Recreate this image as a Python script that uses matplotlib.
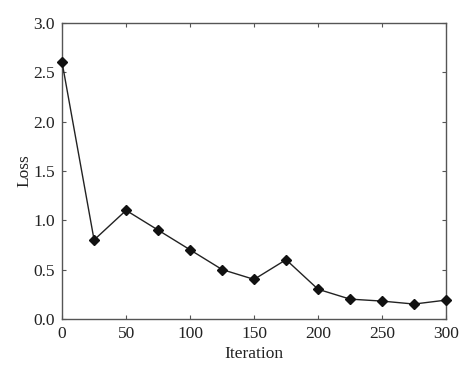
import matplotlib
matplotlib.use("Agg")
import matplotlib.pyplot as plt

# Loss values
iterations = [0, 25, 50, 75, 100, 125, 150, 175, 200, 225, 250, 275, 300]
loss = [2.6, 0.8, 1.1, 0.9, 0.7, 0.5, 0.4, 0.6, 0.3, 0.2, 0.18, 0.15, 0.19]

x_ticks = [0, 50, 100, 150, 200, 250, 300]
y_ticks = [0.0, 0.5, 1.0, 1.5, 2.0, 2.5, 3.0]

plt.rcParams["font.family"] = ["Liberation Serif", "DejaVu Serif"]

fig = plt.figure(figsize=(4.74, 3.76), dpi=100)
ax = fig.add_axes([0.131, 0.152, 0.81, 0.787])

ax.plot(iterations, loss, color="#222222", linewidth=1.0,
        marker="D", markersize=5.5, markerfacecolor="#111111",
        markeredgecolor="#111111", clip_on=False, zorder=3)

ax.set_xlim(0, 300)
ax.set_ylim(0, 3.0)
ax.set_xticks(x_ticks)
ax.set_yticks(y_ticks)
ax.set_yticklabels([f"{v:.1f}" for v in y_ticks])

ax.tick_params(direction="in", top=True, right=True, length=3,
               width=0.8, color="#555555", labelsize=12.5, pad=5,
               labelcolor="#222222")
for side in ax.spines.values():
    side.set_color("#555555")
    side.set_linewidth(1.0)

ax.set_xlabel("Iteration", fontsize=12.5, color="#222222", labelpad=3)
ax.set_ylabel("Loss", fontsize=12.5, color="#222222", labelpad=1)

fig.savefig("out.png", dpi=100)
